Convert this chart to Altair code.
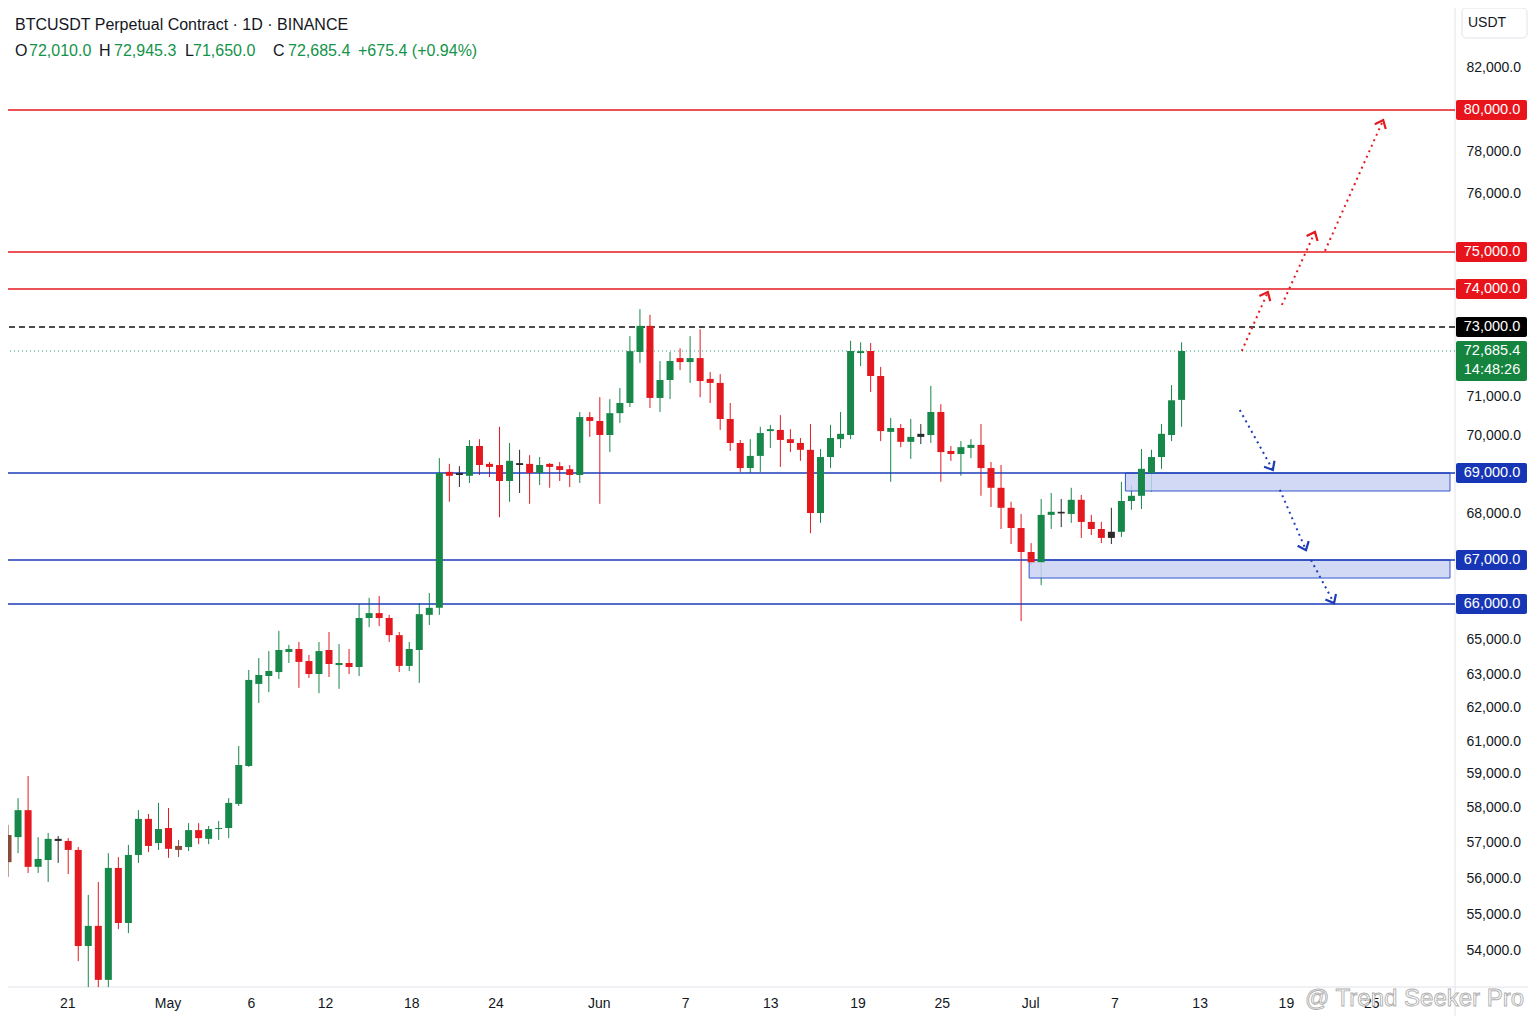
import altair as alt
import pandas as pd

# ---------------- data ----------------
OPEN = [57200, 57140, 57910, 56310, 56500, 57090, 57030, 56780, 54110, 54670,
        53170, 56280, 54750, 56640, 57660, 56970, 57400, 56890, 56860, 57340,
        57090, 57370, 57400, 58090, 59440, 62700, 62940, 63110, 64260, 64430,
        63740, 63000, 64370, 63510, 63630, 63400, 65600, 65740, 65600, 65110,
        63460, 64370, 65690, 65890, 69030, 69000, 68930, 69710, 69240, 69210,
        68800, 69210, 69240, 69000, 69240, 69180, 69100, 68950, 70460, 70360,
        70000, 70560, 70820, 72650, 73030, 70950, 71600, 72420, 72270, 72420,
        71640, 71490, 70410, 69790, 69130, 69450, 70100, 70130, 69890, 69790,
        69610, 68000, 69420, 69890, 70000, 72610, 72685, 71750, 70080, 70180,
        69820, 69950, 70000, 70590, 69580, 69500, 69660, 69740, 69130, 68630,
        68130, 67680, 67170, 66950, 67960, 68030, 67980, 68330, 67810, 67660,
        67600, 67600, 68300, 68430, 69000, 69420, 70000, 70900]
HIGH = [57490, 58260, 58910, 57140, 57260, 57170, 57110, 56860, 55530, 55890,
        56690, 56580, 56920, 57910, 57800, 58120, 57970, 57060, 57540, 57540,
        57460, 57600, 58260, 60690, 63230, 63910, 64310, 65230, 64660, 64830,
        64090, 64830, 65200, 64710, 64430, 66000, 66140, 66180, 65690, 65200,
        64830, 66020, 66250, 69390, 69240, 69180, 69870, 69890, 69290, 70210,
        69790, 69610, 69470, 69420, 69260, 69290, 69210, 70590, 70590, 70970,
        70920, 71300, 72880, 73470, 73320, 72310, 72650, 72720, 72880, 72970,
        71900, 71820, 70820, 69870, 69890, 70210, 70260, 70510, 70150, 69920,
        70280, 69630, 70260, 70590, 72820, 72800, 72790, 72090, 70440, 70280,
        70410, 70280, 71380, 70790, 69710, 69840, 69890, 70280, 69290, 69210,
        68280, 67980, 67360, 68350, 68500, 68350, 68630, 68450, 67960, 67810,
        68130, 68780, 68700, 69630, 69610, 70280, 71410, 72800]
LOW = [56030, 56690, 56140, 56140, 55890, 56420, 56110, 53690, 52970, 52970,
       52970, 54580, 54470, 56420, 56720, 56780, 56560, 56580, 56750, 56940,
       56940, 57060, 57110, 58030, 59380, 62120, 62450, 62850, 63630, 62580,
       62880, 62420, 62910, 62550, 63000, 62940, 65340, 65370, 64830, 63110,
       63170, 62730, 65400, 65690, 68280, 68650, 68750, 68950, 68900, 67910,
       68280, 68500, 68230, 68700, 68630, 68800, 68650, 68750, 69950, 68230,
       69550, 70310, 70720, 72240, 70690, 70590, 70920, 71970, 71490, 70970,
       70820, 70130, 69580, 69030, 69000, 69030, 69660, 69160, 69550, 69320,
       67570, 67790, 69130, 69660, 69890, 72120, 71150, 69840, 68780, 69680,
       69370, 69760, 69790, 68780, 69320, 68930, 69390, 68430, 68150, 67660,
       67340, 65510, 66890, 66430, 67660, 67700, 67790, 67470, 67530, 67360,
       67340, 67490, 68080, 68100, 68530, 69110, 69840, 70210]
CLOSE = [56440, 57910, 56310, 56530, 57090, 57030, 56780, 54110, 54670, 53170,
         56280, 54750, 56640, 57660, 56890, 57370, 56810, 56780, 57340, 57110,
         57370, 57400, 58120, 59500, 62820, 62970, 63170, 64370, 64430, 63690,
         63000, 64310, 63570, 63630, 63400, 65600, 65740, 65600, 65110, 63460,
         64430, 65710, 65890, 69000, 68930, 68950, 69710, 69210, 69160, 68800,
         69320, 69260, 69000, 69210, 69160, 69080, 68950, 70460, 70360, 70000,
         70560, 70820, 72680, 73030, 70950, 71600, 72310, 72270, 72420, 71560,
         71490, 70410, 69790, 69130, 69450, 70050, 70150, 69870, 69790, 69610,
         68000, 69420, 69920, 70030, 72685, 72680, 71750, 70100, 70180, 69820,
         69950, 70030, 70590, 69550, 69500, 69680, 69740, 69130, 68630, 68130,
         67680, 67170, 66950, 67960, 68030, 67990, 68330, 67810, 67660, 67470,
         67470, 68300, 68430, 69110, 69420, 70030, 70890, 72685.4]
DARK_IDX = [5, 45, 51, 91, 105, 110]
BROWN_IDX = [0, 17]

X_TICK_POS = [5.9, 15.9, 24.2, 31.6, 40.2, 48.6, 58.9, 67.5, 76.0, 84.7,
              93.1, 101.9, 110.3, 118.8, 127.4, 135.9]
X_TICK_LABELS = ["21", "May", "6", "12", "18", "24", "Jun", "7", "13", "19",
                 "25", "Jul", "7", "13", "19", "25"]
Y_TICKS = [82000, 80000, 78000, 76000, 71000, 70000, 68000, 65000, 63000,
           62000, 61000, 59000, 58000, 57000, 56000, 55000, 54000]

# price axis anchors (the price axis of the picture is not uniform)
SCALE_PRICES = [54000, 55000, 56000, 57000, 58000, 59000, 61000, 62000, 63000,
                65000, 66000, 67000, 68000, 69000, 70000, 71000, 72685.4, 73000,
                74000, 75000, 76000, 78000, 80000, 82000]
SCALE_PX = [942, 906, 870, 834, 799, 765, 733, 699, 666, 631, 596, 552, 505,
            465, 427, 388, 343, 319, 281, 244, 185, 143, 102, 59]

RED_LEVELS = [80000, 75000, 74000]
BLUE_LEVELS = [69000, 67000, 66000]
KEY_LEVEL = 73000
LAST_PRICE = 72685.4
COUNTDOWN = "14:48:26"

ZONE_START = [111.4, 101.8]
ZONE_TOP = [69000, 67000]
ZONE_BOTTOM = [68550, 66590]

ARROW_X0 = [123.0, 127.0, 131.3, 122.8, 126.8, 129.9]
ARROW_Y0 = [72685, 73580, 75020, 70640, 68580, 67000]
ARROW_X1 = [125.6, 130.3, 137.1, 126.1, 129.4, 132.2]
ARROW_Y1 = [73920, 75340, 79510, 69080, 67210, 66020]
ARROW_KIND = ["up", "up", "up", "down", "down", "down"]
ARROW_ANGLE = [25, 24, 24, 150, 157, 152]

TITLE = "BTCUSDT Perpetual Contract · 1D · BINANCE"
OHLC_KEYS = ["O", "H", "L", "C"]
OHLC_VALS = ["72,010.0", "72,945.3", "71,650.0", "72,685.4"]
CHANGE = "+675.4 (+0.94%)"
WATERMARK = "@ Trend Seeker Pro"

# ---------------- styling ----------------
W, H = 1447, 979
PAD_R, PAD_B = 73, 29
GREEN = "#17874a"
RED = "#e3191f"
BLUE = "#1c3cb8"
TXT = "#131722"
SEP = "#e0e3eb"
FONT = "Liberation Sans"
X_MIN, X_MAX = 0.495, 143.76

XS = alt.Scale(domain=[X_MIN, X_MAX], nice=False, zero=False)
YS = alt.Scale(domain=SCALE_PRICES, range=SCALE_PX, nice=False, zero=False)

label_expr = "[" + ",".join("'%s'" % s for s in X_TICK_LABELS) + "][indexof([" + \
    ",".join(str(v) for v in X_TICK_POS) + "], datum.value)]"

XA = alt.Axis(values=X_TICK_POS, labelExpr=label_expr, ticks=False, domain=False,
              labelPadding=9, labelFontSize=14, labelColor=TXT, labelFont=FONT,
              labelOverlap=False, labelFlush=False, grid=False, title=None)
YA = alt.Axis(orient="right", values=Y_TICKS, format=",.1f", ticks=False,
              domain=False, labelPadding=11, labelFontSize=14, labelColor=TXT,
              labelFont=FONT, labelOverlap=False, grid=False, title=None)


def X(f):
    return alt.X(f, scale=XS, axis=XA)


def Y(f):
    return alt.Y(f, scale=YS, axis=YA)


n = len(OPEN)
tone = []
for i in range(n):
    if i in DARK_IDX:
        tone.append("dark")
    elif i in BROWN_IDX:
        tone.append("brown")
    else:
        tone.append("up" if CLOSE[i] >= OPEN[i] else "down")
candles = pd.DataFrame({"i": list(range(n)), "o": OPEN, "h": HIGH, "l": LOW,
                        "c": CLOSE, "tone": tone})
tone_color = alt.Color("tone:N", legend=None,
                       scale=alt.Scale(domain=["up", "down", "dark", "brown"],
                                       range=[GREEN, RED, "#2b2b2b", "#8a4a3a"]))

one = alt.Data(values=[{}])

# pane separators (price-axis column and time-axis row)
sep_v = alt.Chart(one).mark_rule(color=SEP, strokeWidth=1).encode(
    x=alt.value(W), y=alt.value(0), y2=alt.value(H + PAD_B))
sep_h = alt.Chart(one).mark_rule(color=SEP, strokeWidth=1).encode(
    x=alt.value(0), x2=alt.value(W + PAD_R), y=alt.value(H))

# zones
zones = pd.DataFrame({"x0": ZONE_START, "x1": [X_MAX] * len(ZONE_START),
                      "top": ZONE_TOP, "bot": ZONE_BOTTOM})
zone_layer = alt.Chart(zones).mark_rect(fill="#c9d2f3", fillOpacity=0.85,
                                        stroke="#3556cc", strokeWidth=1).encode(
    x=X("x0:Q"), x2="x1:Q", y=Y("top:Q"), y2="bot:Q")

# level lines
red_lines = alt.Chart(pd.DataFrame({"p": RED_LEVELS})).mark_rule(
    color=RED, strokeWidth=1.5).encode(y=Y("p:Q"))
blue_lines = alt.Chart(pd.DataFrame({"p": BLUE_LEVELS})).mark_rule(
    color=BLUE, strokeWidth=1.5).encode(y=Y("p:Q"))
key_line = alt.Chart(pd.DataFrame({"p": [KEY_LEVEL]})).mark_rule(
    color="#111111", strokeWidth=1.5, strokeDash=[6, 4]).encode(y=Y("p:Q"))
last_line = alt.Chart(pd.DataFrame({"p": [LAST_PRICE]})).mark_rule(
    color="#22a060", strokeWidth=1, strokeDash=[1, 3]).encode(y=Y("p:Q"))

# candles
wicks = alt.Chart(candles).mark_rule(strokeWidth=1).encode(
    x=X("i:Q"), y=Y("l:Q"), y2="h:Q", color=tone_color)
bodies = alt.Chart(candles).mark_bar(size=7).encode(
    x=X("i:Q"), y=Y("o:Q"), y2="c:Q", color=tone_color)

# projection arrows
arrows = pd.DataFrame({"x0": ARROW_X0, "y0": ARROW_Y0, "x1": ARROW_X1,
                       "y1": ARROW_Y1, "kind": ARROW_KIND, "ang": ARROW_ANGLE})
arrow_layers = []
for kind, col in (("up", RED), ("down", BLUE)):
    sub = arrows[arrows["kind"] == kind]
    arrow_layers.append(alt.Chart(sub).mark_rule(
        strokeWidth=2, strokeDash=[2, 4], color=col).encode(
        x=X("x0:Q"), x2="x1:Q", y=Y("y0:Q"), y2="y1:Q"))
    arrow_layers.append(alt.Chart(sub).mark_point(
        shape="M -1 1.2 L 0 0 L 1 1.2", size=144, filled=False, strokeWidth=2.2,
        opacity=1, color=col).encode(
        x=X("x1:Q"), y=Y("y1:Q"), angle=alt.Angle("ang:Q", scale=None)))

# price tags on the axis
TAG_X = W + 37
TAG_PATH = ("M -34 -10 L 33 -10 Q 35 -10 35 -8 L 35 8 Q 35 10 33 10 L -34 10 "
            "Q -36 10 -36 8 L -36 -8 Q -36 -10 -34 -10 Z")
TALL_PATH = ("M -34 -10 L 33 -10 Q 35 -10 35 -8 L 35 28 Q 35 30 33 30 L -34 30 "
             "Q -36 30 -36 28 L -36 -8 Q -36 -10 -34 -10 Z")
tag_layers = []
tag_sets = [(RED_LEVELS, "#e8141c"), ([KEY_LEVEL], "#000000"), (BLUE_LEVELS, "#1636b5")]
for prices, bg in tag_sets:
    tdf = pd.DataFrame({"p": prices, "label": [f"{v:,.1f}" for v in prices]})
    tag_layers.append(alt.Chart(tdf).mark_point(
        shape=TAG_PATH, size=4, filled=True, opacity=1, strokeWidth=0,
        color=bg).encode(x=alt.value(TAG_X), y=Y("p:Q")))
    tag_layers.append(alt.Chart(tdf).mark_text(
        color="white", fontSize=14.5, font=FONT, align="center",
        baseline="middle").encode(x=alt.value(TAG_X), y=Y("p:Q"), text="label:N"))

last_df = pd.DataFrame({"p": [LAST_PRICE], "label": [f"{LAST_PRICE:,.1f}"],
                        "cd": [COUNTDOWN]})
last_box = alt.Chart(last_df).mark_point(shape=TALL_PATH, size=4, filled=True,
                                         opacity=1, strokeWidth=0,
                                         color="#14843f").encode(
    x=alt.value(TAG_X), y=Y("p:Q"))
last_text = alt.Chart(last_df).mark_text(color="white", fontSize=14.5, font=FONT,
                                         align="center", baseline="middle").encode(
    x=alt.value(TAG_X), y=Y("p:Q"), text="label:N")
last_cd = alt.Chart(last_df).mark_text(color="white", fontSize=14.5, font=FONT,
                                       align="center", baseline="middle", dy=19).encode(
    x=alt.value(TAG_X), y=Y("p:Q"), text="cd:N")

usdt_box = alt.Chart(one).mark_rect(fill="white", stroke=SEP,
                                    strokeWidth=1, cornerRadius=4).encode(
    x=alt.value(W + 7), x2=alt.value(W + 72), y=alt.value(0), y2=alt.value(30))
usdt_text = alt.Chart(one).mark_text(text="USDT", fontSize=14, font=FONT,
                                     color=TXT, align="center",
                                     baseline="middle").encode(
    x=alt.value(W + 32), y=alt.value(15))

# header
HF = 16
header_layers = [alt.Chart(one).mark_text(text=TITLE, fontSize=HF, font=FONT,
                                          color=TXT, align="left",
                                          baseline="middle").encode(
    x=alt.value(7), y=alt.value(17))]
key_x = [7, 91, 177, 265]
val_x = [21, 106, 185, 280]
for k, v, kx, vx in zip(OHLC_KEYS, OHLC_VALS, key_x, val_x):
    header_layers.append(alt.Chart(one).mark_text(
        text=k, fontSize=HF, font=FONT, color=TXT, align="left",
        baseline="middle").encode(x=alt.value(kx), y=alt.value(43)))
    header_layers.append(alt.Chart(one).mark_text(
        text=v, fontSize=HF, font=FONT, color="#14934a", align="left",
        baseline="middle").encode(x=alt.value(vx), y=alt.value(43)))
header_layers.append(alt.Chart(one).mark_text(
    text=CHANGE, fontSize=HF, font=FONT, color="#14934a", align="left",
    baseline="middle").encode(x=alt.value(350), y=alt.value(43)))

watermark = alt.Chart(one).mark_text(
    text=WATERMARK, fontSize=24, font=FONT, color="#ffffff", stroke="#b0b0b0",
    strokeWidth=0.9, align="left", baseline="middle").encode(
    x=alt.value(1297), y=alt.value(991))

chart = alt.layer(
    sep_v, sep_h, wicks, zone_layer, red_lines, blue_lines, key_line, last_line,
    bodies, *arrow_layers, *tag_layers, last_box, last_text, last_cd,
    usdt_box, usdt_text, *header_layers, watermark
).properties(
    width=W, height=H,
    padding={"left": 0, "top": 0, "right": PAD_R, "bottom": PAD_B},
    autosize=alt.AutoSizeParams(type="none"),
    background="white",
).configure_view(stroke=None)

chart.save("out.html", embed_options={"renderer": "svg", "actions": False})
